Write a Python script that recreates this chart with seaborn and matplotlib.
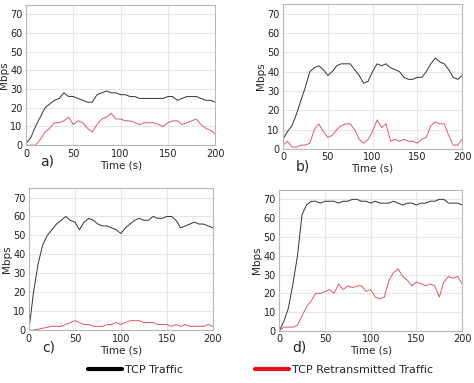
import numpy as np
import pandas as pd
import matplotlib
matplotlib.use("Agg")
import matplotlib.pyplot as plt
from matplotlib.lines import Line2D
import seaborn as sns

# time axis (s), sampled every 5 s
time_s = list(range(0, 201, 5))

# a)
a_tcp = [1, 4, 10, 15, 20, 22, 24, 25, 28, 26, 26, 25, 24, 23, 23, 27, 28, 29, 28, 28, 27,
         27, 26, 26, 25, 25, 25, 25, 25, 25, 26, 26, 24, 25, 26, 26, 26, 25, 24, 24, 23]
a_retx = [0, 0, 0, 3, 7, 9, 12, 12, 13, 15, 11, 13, 12, 9, 7, 11, 14, 15, 17, 14, 14,
          13, 13, 12, 11, 12, 12, 12, 11, 10, 12, 13, 13, 11, 12, 13, 14, 11, 9, 8, 6]
# b)
b_tcp = [5, 9, 12, 18, 25, 32, 40, 42, 43, 41, 38, 40, 43, 44, 44, 44, 41, 38, 34, 35, 40,
         44, 43, 44, 42, 41, 40, 37, 36, 36, 37, 37, 40, 44, 47, 45, 44, 41, 37, 36, 38]
b_retx = [2, 4, 1, 1, 2, 2, 3, 10, 13, 9, 6, 7, 10, 12, 13, 13, 10, 5, 3, 5, 9,
          15, 11, 13, 4, 5, 4, 5, 4, 4, 3, 5, 6, 12, 14, 13, 13, 7, 2, 2, 5]
# c)
c_tcp = [0, 20, 35, 45, 50, 53, 56, 58, 60, 58, 57, 53, 57, 59, 58, 56, 55, 55, 54, 53, 51,
         54, 56, 58, 59, 58, 58, 60, 59, 59, 60, 60, 58, 54, 55, 56, 57, 56, 56, 55, 54]
c_retx = [0, 0, 0.5, 1, 1.5, 2, 2, 2, 3, 4, 5, 4, 3, 3, 2, 2, 2, 3, 3, 4, 3,
          4, 5, 5, 5, 4, 4, 4, 3, 3, 3, 2, 3, 2, 3, 2, 2, 2, 2, 3, 2]
# d)
d_tcp = [0, 5, 12, 25, 40, 62, 67, 69, 69, 68, 69, 69, 69, 68, 69, 69, 70, 70, 69, 69, 68,
         69, 68, 68, 68, 69, 68, 67, 68, 68, 67, 68, 68, 69, 69, 70, 70, 68, 68, 68, 67]
d_retx = [0, 2, 2, 2, 3, 8, 13, 16, 20, 20, 21, 22, 20, 25, 22, 24, 23, 24, 24, 21, 22,
          18, 17, 18, 27, 31, 33, 29, 27, 24, 26, 25, 24, 25, 24, 18, 26, 29, 28, 29, 25]

panel_labels = ["a)", "b)", "c)", "d)"]
series_names = ["TCP Traffic", "TCP Retransmitted Traffic"]

sns.set_style("whitegrid", {"grid.color": "#e6e6e6", "axes.edgecolor": "#b8b8b8"})
plt.rcParams["font.family"] = ["DejaVu Sans"]

fig = plt.figure(figsize=(4.74, 3.83), dpi=100)

rects = [
    [0.055, 0.621, 0.399, 0.366],
    [0.597, 0.611, 0.378, 0.379],
    [0.061, 0.138, 0.388, 0.371],
    [0.589, 0.136, 0.386, 0.368],
]
data = [(a_tcp, a_retx), (b_tcp, b_retx), (c_tcp, c_retx), (d_tcp, d_retx)]
colors = {"TCP Traffic": "#333333", "TCP Retransmitted Traffic": "#e05a68"}

for rect, (tcp, retx), lab in zip(rects, data, panel_labels):
    ax = fig.add_axes(rect)
    df = pd.DataFrame({
        "Time": time_s * 2,
        "Mbps": tcp + retx,
        "series": [series_names[0]] * len(time_s) + [series_names[1]] * len(time_s),
    })
    sns.lineplot(data=df, x="Time", y="Mbps", hue="series", palette=colors,
                 linewidth=0.7, ax=ax, legend=False)
    ax.set_xlim(0, 200)
    ax.set_ylim(0, 75)
    ax.set_xticks([0, 50, 100, 150, 200])
    ax.set_yticks(range(0, 71, 10))
    ax.tick_params(labelsize=7, pad=2.5, length=0, colors="#222222")
    ax.set_xlabel("Time (s)", fontsize=7.5, labelpad=1)
    ax.set_ylabel("Mbps", fontsize=7.5, labelpad=1)
    ax.text(0.11, -0.12, lab, transform=ax.transAxes, fontsize=10, va="center", ha="center")
    for s in ax.spines.values():
        s.set_linewidth(0.8)

handles = [Line2D([], [], color="black", lw=3), Line2D([], [], color="#e8101c", lw=3)]
fig.legend(handles, series_names, loc="center", bbox_to_anchor=(0.55, 0.035), ncol=2,
           frameon=False, fontsize=8, handlelength=3, columnspacing=6.5, handletextpad=0.3)

fig.savefig("out.png", dpi=100)
